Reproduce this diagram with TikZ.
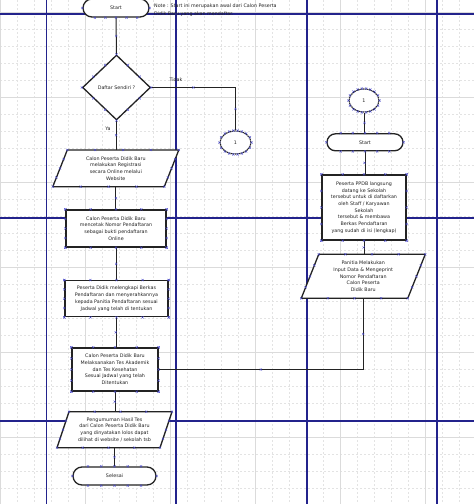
\documentclass[tikz,border=0pt]{standalone}
\usepackage{fontspec}
\setmainfont{DejaVu Sans}
\usetikzlibrary{shapes.geometric,shapes.misc,calc}
\definecolor{lane}{RGB}{35,35,140}
\definecolor{cpblue}{RGB}{70,70,200}
\definecolor{ink}{RGB}{35,35,35}
\newcommand\cx[1]{\draw[cpl] #1 +(-1.1,-1.1) -- +(1.1,1.1) +(-1.1,1.1) -- +(1.1,-1.1);}
\newcommand\rectmarks[1]{%
  \foreach \f in {0,0.25,0.5,0.75,1}{%
    \cx{($(#1.north west)!\f!(#1.north east)$)}
    \cx{($(#1.south west)!\f!(#1.south east)$)}
    \cx{($(#1.north west)!\f!(#1.south west)$)}
    \cx{($(#1.north east)!\f!(#1.south east)$)}}}
\newcommand\termmarks[2]{%
  \foreach \f in {-0.32,-0.16,0,0.16,0.32}{%
    \cx{($(#1.north)+(\f*#2,0)$)}
    \cx{($(#1.south)+(\f*#2,0)$)}}
  \cx{(#1.west)}\cx{(#1.east)}}
\newcommand\ellmarks[1]{%
  \foreach \a in {0,20,...,340}{\cx{(#1.\a)}}}
% parallelogram: name, cx, cy, width, height, slant, text
\newcommand\iobox[7]{%
  \coordinate (#1-tl) at ({#2-#4/2+#6},{#3-#5/2});
  \coordinate (#1-tr) at ({#2+#4/2+#6},{#3-#5/2});
  \coordinate (#1-br) at ({#2+#4/2-#6},{#3+#5/2});
  \coordinate (#1-bl) at ({#2-#4/2-#6},{#3+#5/2});
  \draw[shapeline,fill=white] (#1-tl) -- (#1-tr) -- (#1-br) -- (#1-bl) -- cycle;
  \node[txt,minimum width=#4,minimum height=#5,inner sep=0pt] (#1) at (#2,#3) {#7};
  \foreach \f in {0,0.25,0.5,0.75,1}{%
    \cx{($(#1-tl)!\f!(#1-tr)$)}\cx{($(#1-bl)!\f!(#1-br)$)}}
  \foreach \f in {0.25,0.5,0.75}{%
    \cx{($(#1-tl)!\f!(#1-bl)$)}\cx{($(#1-tr)!\f!(#1-br)$)}}}
\begin{document}
\begin{tikzpicture}[x=1pt,y=-1pt,
  txt/.style={font=\fontsize{4.8}{6.7}\selectfont,align=center,text=ink},
  shapeline/.style={draw=ink,line width=1.3pt,line join=round},
  boxn/.style={txt,shapeline,fill=white,rectangle,inner sep=0pt},
  termn/.style={txt,shapeline,fill=white,rounded rectangle,inner sep=0pt},
  elln/.style={txt,draw=ink,line width=1.1pt,dash pattern=on 1.5pt off 0.6pt,fill=white,ellipse,inner sep=0pt},
  decn/.style={txt,shapeline,fill=white,diamond,inner sep=0pt},
  conn/.style={draw=ink,line width=1pt},
  cpl/.style={draw=cpblue,line width=0.35pt},
  minor/.style={draw=black!11,line width=0.45pt,dash pattern=on 2pt off 2pt},
  major/.style={draw=black!14,line width=0.6pt},
  lanel/.style={draw=lane,line width=1.2pt},
  lbl/.style={font=\fontsize{4.8}{6.7}\selectfont,text=ink,inner sep=0pt}]
\useasboundingbox (0,0) rectangle (474,504);
\fill[white] (0,0) rectangle (474,504);
% grid
\foreach \i in {0,...,27}{\draw[minor] ({0.7+17*\i},0) -- ({0.7+17*\i},504);}
\foreach \i in {0,...,29}{\draw[minor] (0,{12.3+17*\i}) -- (474,{12.3+17*\i});}
\foreach \i in {0,5,...,25}{\draw[major] ({0.7+17*\i},0) -- ({0.7+17*\i},504);}
\foreach \i in {0,5,...,25}{\draw[major] (0,{12.3+17*\i}) -- (474,{12.3+17*\i});}
% swimlane lines
\foreach \x in {46.5,176,307,437}{\draw[lanel] (\x,0) -- (\x,504);}
\foreach \y in {14,218,421}{\draw[lanel] (0,\y) -- (474,\y);}
% nodes
\node[termn,minimum width=66,minimum height=18] (start1) at (116,8) {Start};
\node[decn,minimum width=68,minimum height=65] (dec) at (116.5,87.5) {Daftar Sendiri ?};
\node[elln,minimum width=31,minimum height=23] (c1) at (235.5,142.5) {1};
\iobox{p1}{115.8}{168.3}{111.5}{36.7}{7.25}{Calon Peserta Didik Baru\\melakukan Registrasi\\secara Online melalui\\Website}
\node[boxn,minimum width=100,minimum height=37] (r2) at (116,228.5) {Calon Peserta Didik Baru\\mencetak Nomor Pendaftaran\\sebagai bukti pendaftaran\\Online};
\node[boxn,minimum width=103,minimum height=36] (r3) at (116.5,298.7) {Peserta Didik melengkapi Berkas\\Pendaftaran dan menyerahkannya\\kepada Panitia Pendaftaran sesuai\\Jadwal yang telah di tentukan};
\node[boxn,minimum width=86,minimum height=43] (r4) at (115,369.5) {Calon Peserta Didik Baru\\Melaksanakan Tes Akademik\\dan Tes Kesehatan\\Sesuai Jadwal yang telah\\Ditentukan};
\iobox{p5}{114.5}{429.7}{103}{36}{6}{Pengumuman Hasil Tes\\dari Calon Peserta Didik Baru\\yang dinyatakan lolos dapat\\dilihat di website / sekolah tsb}
\node[termn,minimum width=83,minimum height=18] (sel) at (114.5,476) {Selesai};
\node[elln,minimum width=30,minimum height=23] (c2) at (364,100.5) {1};
\node[termn,minimum width=76,minimum height=17] (start2) at (365,142.3) {Start};
\node[boxn,minimum width=84,minimum height=65] (rR) at (364,207.5) {Peserta PPDB langsung\\datang ke Sekolah\\tersebut untuk di daftarkan\\oleh Staff / Karyawan\\Sekolah\\tersebut \& membawa\\Berkas Pendaftaran\\yang sudah di isi (lengkap)};
\iobox{pR}{363.25}{276.3}{106.5}{44}{8.75}{Panitia Melakukan\\Input Data \& Mengeprint\\Nomor Pendaftaran\\Calon Peserta\\Didik Baru}
% note and labels
\node[lbl,anchor=west,align=left,font=\fontsize{4.8}{7.5}\selectfont] (note) at (154,10.2) {Note : Start ini merupakan awal dari Calon Peserta\\Didik Baru yang akan mendaftar.};
\node[lbl] (tidak) at (176,80) {Tidak};
\node[lbl] (ya) at (108,129) {Ya};
% connectors
\draw[conn] (start1.south) -- (dec.north);
\draw[conn] (dec.east) -| (c1.north);
\draw[conn] (dec.south) -- (dec.south |- p1.north);
\draw[conn] (p1.south) -- (p1.south |- r2.north);
\draw[conn] (r2.south) -- (r2.south |- r3.north);
\draw[conn] (r3.south) -- (r3.south |- r4.north);
\draw[conn] (r4.south) -- (r4.south |- p5.north);
\draw[conn] (p5.south) -- (p5.south |- sel.north);
\draw[conn] (c2.south) -- (c2.south |- start2.north);
\draw[conn] (start2.south) -- (start2.south |- rR.north);
\draw[conn] (rR.south) -- (rR.south |- pR.north);
\draw[conn] (pR.south) |- (r4.east);
% connection point marks
\termmarks{start1}{66}
\termmarks{sel}{83}
\termmarks{start2}{76}
\ellmarks{c1}
\ellmarks{c2}
\rectmarks{r2}
\rectmarks{r3}
\rectmarks{r4}
\rectmarks{rR}
\foreach \f in {0,0.33,0.67}{%
  \cx{($(dec.west)!\f!(dec.north)$)}\cx{($(dec.north)!\f!(dec.east)$)}
  \cx{($(dec.east)!\f!(dec.south)$)}\cx{($(dec.south)!\f!(dec.west)$)}}
\cx{($(start1.south)!0.5!(dec.north)$)}
\cx{($(dec.south)!0.5!(p1.north)$)}
\cx{($(p1.south)!0.5!(r2.north)$)}
\cx{($(r2.south)!0.5!(r3.north)$)}
\cx{($(r3.south)!0.5!(r4.north)$)}
\cx{($(r4.south)!0.5!(p5.north)$)}
\cx{($(p5.south)!0.5!(sel.north)$)}
\cx{($(c2.south)!0.5!(start2.north)$)}
\cx{($(start2.south)!0.5!(rR.north)$)}
\cx{($(rR.south)!0.5!(pR.north)$)}
\cx{($(dec.east)!0.5!(dec.east -| c1.north)$)}
\cx{($(dec.east -| c1.north)!0.5!(c1.north)$)}
\cx{($(pR.south)!0.5!(pR.south |- r4.east)$)}
\cx{($(r4.east)!0.5!(pR.south |- r4.east)$)}
\end{tikzpicture}
\end{document}
